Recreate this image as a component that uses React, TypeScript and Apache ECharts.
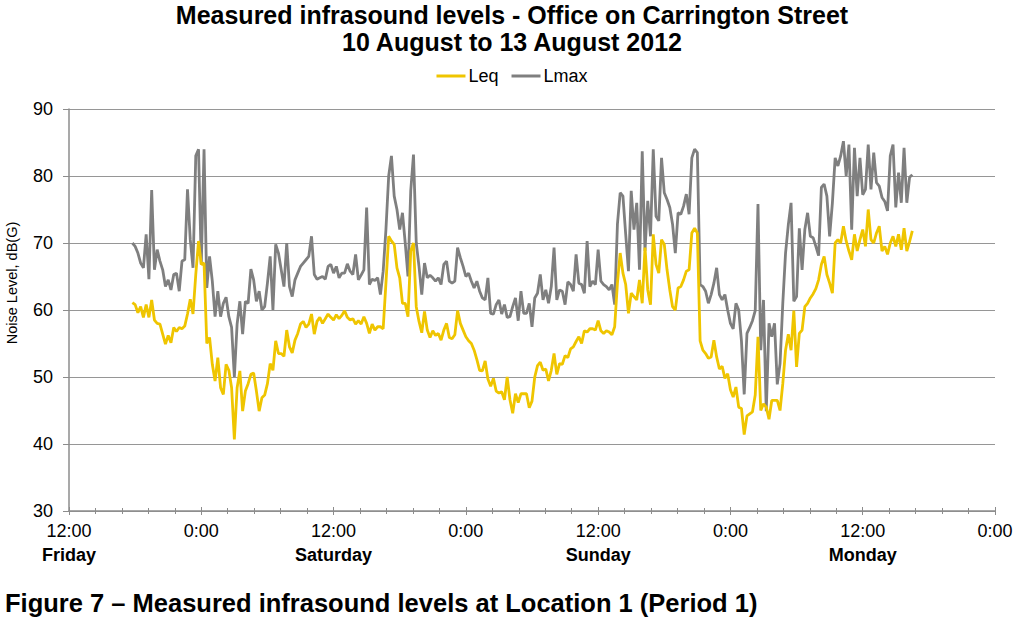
import React, { useEffect, useRef } from "react";
import * as echarts from "echarts";

// Time axis: hours after Friday 10 Aug 2012 12:00; samples every 15 minutes from Friday 17:45
const START_HOUR = 5.75;
const STEP_HOURS = 0.25;
const DAY_NAMES = ["Friday", "Saturday", "Sunday", "Monday"];
const Y_MIN = 30;
const Y_MAX = 90;

const leq = [
  61.1, 60.8, 59.6, 60.5, 58.9, 60.8, 58.9, 61.5, 58.5, 58, 57.9, 56.4, 54.9, 56.2, 55.1, 57.4, 56.8, 57.4, 57.2, 57.6,
  59.4, 61.6, 59.4, 65.3, 70.3, 66.8, 67, 55, 55.9, 51.9, 49.4, 52.9, 48.4, 47.4, 51.9, 51, 48.4, 40.7, 48.4, 50.9,
  44.9, 47.9, 49, 50.4, 50.6, 47.9, 44.9,
  46.9, 47.3, 49, 52, 51, 55.4, 53.5, 53.5, 53.1, 57, 54.5, 53.6, 55.5, 56.5, 57.9, 58.3, 57.4, 57.9, 59.4, 56.4,
  58.3, 58.9, 58, 58.7, 59.4, 58.9, 58.5, 59.3, 58.7, 59.2, 59.9, 58.9, 58.5, 58.7, 57.9, 58.4, 57.9, 59, 58, 56.5,
  57.9, 57, 57.5, 57.5, 57.2, 64, 71, 70.3,
  69.8, 66.3, 64.8, 61, 61, 59, 68.8, 70, 60.5, 58.3, 56.6, 59.8, 57, 55.9, 56.9, 56.2, 56.5, 55.5, 57, 58,
  55.9, 55.7, 56.3, 59.9, 58, 57, 56, 55.4, 55, 54, 52.6, 51, 50.9, 52.4, 49.7, 48.6, 49.8, 47.9, 47.6, 47.8,
  46.6, 50, 46.6, 44.6, 47.5, 46.2,
  47.5, 47.5, 47.5, 45.4, 46.4, 50, 51.7, 52.2, 51, 51.2, 49.4, 51, 53.5, 50.4, 52, 51.9, 53.2, 52.9, 54.2, 54.5,
  55.3, 56, 55, 56.9, 56.7, 57.2, 57.2, 57, 58.4, 56.9, 56.5, 56.9, 56.7, 56.3, 57.5, 64, 68.5, 65.5, 63.8, 59.5,
  62.5, 62, 61.5, 64.5, 61, 69.3, 63,
  60.8, 71.3, 66.8, 65.5, 70.5, 69.8, 66, 63, 60.5, 60, 63.3, 63.5, 64.5, 65.8, 66, 71.5, 72.2, 71.5, 55.4, 54,
  53.5, 52.8, 53, 55.5, 53, 51.2, 51.6, 49.8, 50.5, 48.1, 47, 48.5, 45.5, 45.3, 41.4, 44.2, 44.5, 44.8, 47.3, 56,
  45, 46, 45.5, 43.7, 46.5, 46.5, 46.5,
  45, 49, 54, 56.4, 54, 59.9, 51.5, 56.5, 57, 60.5, 61, 61.8, 62.4, 63.2, 64.5, 66.8, 68, 65.3, 64, 62.5,
  70, 70.5, 70, 72.5, 70.3, 68.8, 67.5, 71.3, 68.8, 70.5, 72, 69.5, 75, 70.5, 70, 71.5, 72.5, 68.8, 69.5, 68.3,
  70, 71, 69.5, 71.3, 69, 72.2, 68.8, 70.2, 71.8,
];

const lmax = [
  70, 69.5, 68.5, 67, 66.3, 71.3, 64.6, 77.9, 66, 69, 67.3, 66, 63.5, 64.5, 63, 65.3, 65.5, 62.8, 67.3, 67.5,
  78, 70.5, 66.3, 83, 84, 66.8, 84, 63.3, 68, 64.3, 59, 62.8, 59, 61, 61.9, 59, 57.4, 50, 57.9, 61.3,
  56.4, 61.3, 61, 66.1, 64.5, 61.3, 62.8,
  60, 60.5, 64, 68, 60, 69.8, 68.5, 66, 63.5, 70, 63.5, 62, 64.5, 65.5, 66.5, 67, 67.5, 68, 71, 65.3,
  64.6, 64.8, 65, 64.6, 66.5, 66.8, 65.5, 66.5, 64.8, 65.5, 65.5, 66.9, 65.8, 65.3, 68.3, 64.5, 65.2, 66, 75.3, 63.8,
  64.6, 64.4, 64.8, 62.3, 65.8, 72, 80, 83,
  77, 75, 72, 74.5, 70, 65, 77.8, 83.2, 70, 66.5, 62.3, 67, 64.8, 65.2, 64.8, 64.3, 64.8, 63.8, 66.8, 67.3,
  64.3, 64, 64.3, 69.3, 67.8, 66.5, 65, 65.5, 64.3, 63.3, 64.3, 62.8, 61.8, 61.5, 64.8, 59.5, 59.4, 60.8, 61.5, 59.4,
  60.8, 58.9, 59, 60.5, 61.8, 58.4,
  62.8, 59.5, 59.5, 61, 57.5, 61.8, 62.5, 65.3, 61.5, 63, 61, 63.5, 69.3, 61.5, 63, 62.8, 60.8, 64.2, 63.8, 62.8,
  68.3, 64, 63.8, 62.5, 70.3, 63.5, 64.3, 63.8, 69, 64.3, 63.8, 63.5, 63, 63.8, 60.8, 72.8, 77.5, 77, 71.3, 65.8,
  77.8, 72, 76, 66, 83.7, 68.8, 76.3,
  71, 84, 74, 73.3, 82.7, 77.5, 76.5, 75.3, 72.8, 68.5, 74.5, 74.3, 75.5, 77.3, 74.3, 82.7, 84, 83.5, 63.8, 63.5,
  62.8, 61, 62.3, 64, 66.3, 62.3, 61.5, 62.3, 60, 58, 57.2, 61, 60, 55.4, 47.4, 56.5, 57.4, 58.4, 59.9, 75.8,
  54, 61.5, 44.9, 58, 56, 58, 48.9,
  52, 61, 68.5, 72.7, 76, 61.3, 62, 72.2, 66, 72, 74.5, 71, 70.8, 69.5, 68.1, 78.3, 78.8, 77, 71, 76,
  82.7, 81.5, 83, 85.2, 80, 84.7, 72, 84.2, 77, 82.7, 77.2, 78, 84.7, 78, 83.5, 79, 78.5, 76.8, 76.2, 74.8,
  83, 84.7, 75.3, 80.5, 76, 84.2, 76, 79.8, 80.2,
];

const FONT = "'Liberation Sans', Arial, Helvetica, sans-serif";
const AXIS_GREY = "#8c8c8c";

export default function App() {
  const ref = useRef<HTMLDivElement>(null);

  useEffect(() => {
    document.body.style.margin = "0";
    const chart = echarts.init(ref.current as HTMLDivElement, null, { renderer: "svg" });
    const pairs = (arr: number[]) => arr.map((v, i) => [START_HOUR + i * STEP_HOURS, v]);
    const xLabel = (v: number) => {
      const hod = (12 + Math.round(v)) % 24;
      if (hod === 0) return "{t|0:00}";
      const day = DAY_NAMES[Math.round(v / 24)];
      return day ? `{t|12:00}\n{d|${day}}` : "{t|12:00}";
    };
    const titleStyle = { fontFamily: FONT, fontSize: 25, fontWeight: "bold", color: "#000", lineHeight: 25 };
    chart.setOption({
      animation: false,
      textStyle: { fontFamily: FONT },
      title: [
        {
          text: "Measured infrasound levels - Office on Carrington Street",
          left: "center",
          top: 2,
          padding: 0,
          textStyle: titleStyle,
        },
        {
          text: "10 August to 13 August 2012",
          left: "center",
          top: 29,
          padding: 0,
          textStyle: titleStyle,
        },
      ],
      legend: {
        data: ["Leq", "Lmax"],
        left: "center",
        top: 62,
        icon: "rect",
        itemWidth: 29,
        itemHeight: 3,
        itemGap: 13,
        textStyle: { fontFamily: FONT, fontSize: 18, color: "#000", padding: [0, 0, 0, -2] },
      },
      grid: { left: 69, right: 29, top: 109, bottom: 112, containLabel: false },
      xAxis: [
        {
          type: "value",
          min: 0,
          max: 84,
          interval: 12,
          axisLine: { show: true, lineStyle: { color: AXIS_GREY, width: 1.5 } },
          axisTick: { show: true, length: 4, lineStyle: { color: AXIS_GREY } },
          minorTick: { show: true, splitNumber: 5, length: 3, lineStyle: { color: AXIS_GREY } },
          splitLine: { show: false },
          axisLabel: {
            formatter: xLabel,
            margin: 8,
            rich: {
              t: { fontFamily: FONT, fontSize: 18, color: "#000", lineHeight: 24 },
              d: { fontFamily: FONT, fontSize: 18, fontWeight: "bold", color: "#000", lineHeight: 24 },
            },
          },
        },
        {
          type: "value",
          min: 0,
          max: 84,
          interval: 12,
          position: "bottom",
          axisLine: { show: false },
          axisTick: { show: true, inside: true, length: 4, lineStyle: { color: AXIS_GREY } },
          minorTick: { show: true, splitNumber: 5, length: 3, lineStyle: { color: AXIS_GREY } },
          splitLine: { show: false },
          axisLabel: { show: false },
        },
      ],
      yAxis: {
        type: "value",
        min: Y_MIN,
        max: Y_MAX,
        interval: 10,
        axisLine: { show: true, lineStyle: { color: AXIS_GREY, width: 1.5 } },
        axisTick: { show: true, length: 6, lineStyle: { color: AXIS_GREY } },
        splitLine: { show: true, lineStyle: { color: "#969696", width: 1 } },
        axisLabel: { fontFamily: FONT, fontSize: 18, color: "#000", margin: 16 },
      },
      series: [
        {
          name: "Lmax",
          type: "line",
          data: pairs(lmax),
          symbol: "none",
          lineStyle: { color: "#7f7f7f", width: 2.8 },
          itemStyle: { color: "#7f7f7f" },
          z: 2,
        },
        {
          name: "Leq",
          type: "line",
          data: pairs(leq),
          symbol: "none",
          lineStyle: { color: "#efc500", width: 2.8 },
          itemStyle: { color: "#efc500" },
          z: 3,
        },
      ],
      graphic: [
        {
          type: "text",
          x: 12,
          y: 283,
          rotation: Math.PI / 2,
          style: {
            text: "Noise Level, dB(G)",
            font: `14.5px ${FONT}`,
            fill: "#000",
            align: "center",
            verticalAlign: "middle",
          },
        },
        {
          type: "text",
          left: 5,
          top: 590,
          style: {
            text: "Figure 7 – Measured infrasound levels at Location 1 (Period 1)",
            font: `bold 25.5px ${FONT}`,
            fill: "#000",
          },
        },
      ],
    });
    return () => chart.dispose();
  }, []);

  return <div ref={ref} style={{ width: 1024, height: 623 }} />;
}
